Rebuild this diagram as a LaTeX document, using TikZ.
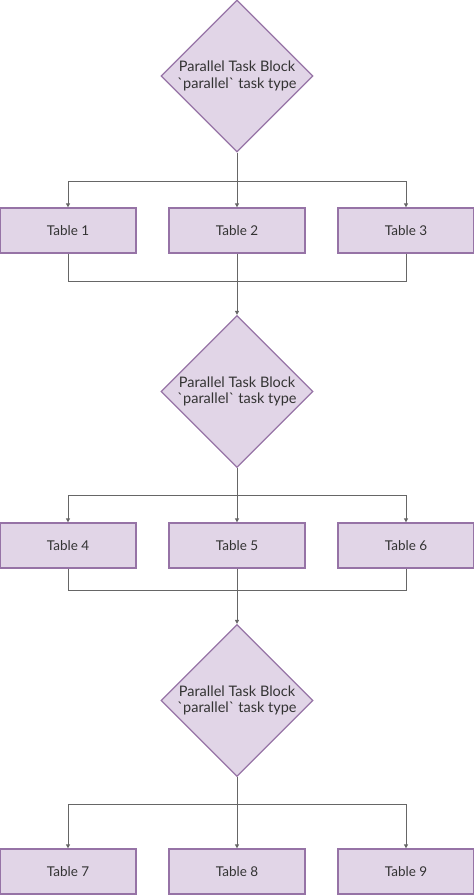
\documentclass[tikz,border=0pt]{standalone}
\usepackage{fontspec}
\setmainfont{Lato}[Ligatures=TeXOff]
\usetikzlibrary{shapes.geometric,arrows.meta}
\definecolor{pfill}{HTML}{E1D5E7}
\definecolor{pdraw}{HTML}{9673A6}
\definecolor{lcol}{HTML}{666666}
\definecolor{tcol}{HTML}{333333}
\tikzset{
  tbox/.style={draw=pdraw,fill=pfill,line width=1.3bp,minimum width=136bp,minimum height=45bp,inner sep=0,text=tcol,font=\fontsize{13.5bp}{16bp}\selectfont},
  dia/.style={diamond,draw=pdraw,fill=pfill,line width=1.3bp,minimum width=152bp,minimum height=152bp,inner sep=0,text=tcol,align=center,font=\fontsize{14.5bp}{16.5bp}\selectfont},
  conn/.style={draw=lcol,line width=1bp},
  arr/.style={conn,-{Triangle[length=4bp,width=4bp]}}
}
\begin{document}
\begin{tikzpicture}[x=1bp,y=-1bp]
\useasboundingbox (0,0) rectangle (474,895);
% block 1
\node[dia] (d1) at (237,76) {Parallel Task Block\\`parallel` task type};
\node[tbox] (t1) at (68,230.5) {Table 1};
\node[tbox] (t2) at (237,230.5) {Table 2};
\node[tbox] (t3) at (406,230.5) {Table 3};
\coordinate (s1) at (237,181);
\coordinate (m1) at (237,281);
% block 2
\node[dia] (d2) at (237,391.5) {Parallel Task Block\\`parallel` task type};
\node[tbox] (t4) at (68,545.5) {Table 4};
\node[tbox] (t5) at (237,545.5) {Table 5};
\node[tbox] (t6) at (406,545.5) {Table 6};
\coordinate (s2) at (237,495);
\coordinate (m2) at (237,590);
% block 3
\node[dia] (d3) at (237,700.5) {Parallel Task Block\\`parallel` task type};
\node[tbox] (t7) at (68,871.5) {Table 7};
\node[tbox] (t8) at (237,871.5) {Table 8};
\node[tbox] (t9) at (406,871.5) {Table 9};
\coordinate (s3) at (237,804);
% connectors block 1
\draw[arr] (d1.south) -- (t2.north);
\draw[arr] (s1) -| (t1.north);
\draw[arr] (s1) -| (t3.north);
\draw[conn] (t1.south) |- (m1);
\draw[conn] (t3.south) |- (m1);
\draw[arr] (t2.south) -- (d2.north);
% connectors block 2
\draw[arr] (d2.south) -- (t5.north);
\draw[arr] (s2) -| (t4.north);
\draw[arr] (s2) -| (t6.north);
\draw[conn] (t4.south) |- (m2);
\draw[conn] (t6.south) |- (m2);
\draw[arr] (t5.south) -- (d3.north);
% connectors block 3
\draw[arr] (d3.south) -- (t8.north);
\draw[arr] (s3) -| (t7.north);
\draw[arr] (s3) -| (t9.north);
\end{tikzpicture}
\end{document}
